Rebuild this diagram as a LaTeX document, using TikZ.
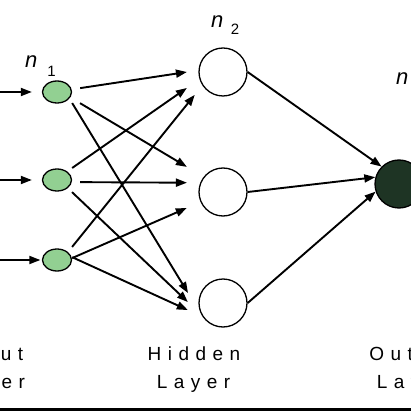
\documentclass[tikz,border=0pt]{standalone}
\usepackage{fontspec}
\setmainfont{Liberation Sans}
\newfontfamily\spacedfont[LetterSpace=34]{Liberation Sans}
\usetikzlibrary{shapes.geometric,arrows.meta}
\definecolor{inGreen}{RGB}{146,208,146}
\definecolor{outGreen}{RGB}{30,52,36}
\tikzset{
  innode/.style={ellipse,draw,line width=1.3pt,fill=inGreen,minimum width=29pt,minimum height=22pt,inner sep=0pt},
  hidnode/.style={circle,draw,line width=1.3pt,fill=white,minimum size=48pt,inner sep=0pt},
  outnode/.style={circle,draw,line width=1.3pt,fill=outGreen,minimum size=48pt,inner sep=0pt},
  arr/.style={line width=1.9pt,-{Triangle[length=11pt,width=8pt]}},
  layerlbl/.style={font=\spacedfont\fontsize{19}{19}\selectfont,inner sep=0pt,anchor=base west},
  nlbl/.style={font=\fontsize{22}{22}\selectfont,inner sep=0pt,anchor=base west},
}
\begin{document}
\begin{tikzpicture}[x=1pt,y=-1pt]
\useasboundingbox (0,0) rectangle (411,411);
\clip (0,0) rectangle (411,411);
% nodes
\node[innode] (g1) at (57,92) {};
\node[innode] (g2) at (57,180) {};
\node[innode] (g3) at (57,260) {};
\node[hidnode] (h1) at (223,72) {};
\node[hidnode] (h2) at (223,192) {};
\node[hidnode] (h3) at (223,303) {};
\node[outnode] (out) at (399,184) {};
% input arrows
\coordinate (i1) at (-5,92);
\coordinate (i2) at (-5,180);
\coordinate (i3) at (-5,260);
\draw[arr,shorten >=10pt] (i1) -- (g1);
\draw[arr,shorten >=10pt] (i2) -- (g2);
\draw[arr,shorten >=1.5pt] (i3) -- (g3);
% input to hidden
\draw[arr,shorten <=8.5pt,shorten >=11.6pt] (g1.10.5) -- (h1.176);
\draw[arr,shorten <=11.2pt,shorten >=19.4pt] (g1.338.6) -- (h2.142);
\draw[arr,shorten <=5.2pt,shorten >=27pt] (g1.332) -- (h3.212);
\draw[arr,shorten <=6pt,shorten >=15.3pt] (g2.40.4) -- (h1.197.2);
\draw[arr,shorten <=8.2pt,shorten >=13.2pt] (g2.352.3) -- (h2.158.5);
\draw[arr,shorten <=5.8pt,shorten >=18.7pt] (g2.323.4) -- (h3.209);
\draw[arr,shorten <=6.5pt,shorten >=12.1pt] (g3.36) -- (h1.213.7);
\draw[arr,shorten <=0.2pt,shorten >=14.9pt] (g3.7.4) -- (h2.204.2);
\draw[arr,shorten <=0.7pt,shorten >=16.2pt] (g3.12.9) -- (h3.214.1);
% hidden to output
\draw[arr] (h1.east) -- (out.135);
\draw[arr] (h2.east) -- (out.164);
\draw[arr] (h3.east) -- (out.198);
% neuron labels
\node[nlbl] (n1) at (25,68) {\textit{n}\kern10pt\raisebox{-9pt}{\fontsize{15}{15}\selectfont 1}};
\node[nlbl] (n2) at (211,28) {\textit{n}\kern7.5pt\raisebox{-7pt}{\fontsize{15}{15}\selectfont 2}};
\node[nlbl] (n3) at (396,85) {\textit{n}};
% layer labels
\node[layerlbl] (inA) at (-45.1,360) {Input};
\node[layerlbl] (inB) at (-48.5,388) {Layer};
\node[layerlbl] (hidA) at (147.5,360) {Hidden};
\node[layerlbl] (hidB) at (156.6,388) {Layer};
\node[layerlbl] (outA) at (369.1,360) {Output};
\node[layerlbl] (outB) at (376.6,388) {Layer};
% bottom rule
\fill[black] (0,408) rectangle (411,411.5);
\end{tikzpicture}
\end{document}
